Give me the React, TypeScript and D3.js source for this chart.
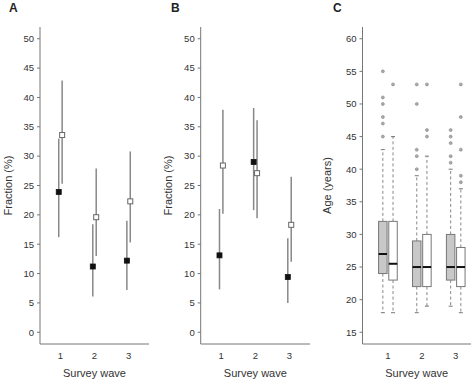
import React from "react";
import * as d3 from "d3";

const waves = [1, 2, 3];
const waveLabels = ["1", "2", "3"];

// Panel A
const aFilledMean = [23.9, 11.2, 12.2];
const aFilledLo = [16.2, 6.1, 7.2];
const aFilledHi = [33.0, 18.4, 19.0];
const aOpenMean = [33.6, 19.6, 22.3];
const aOpenLo = [25.3, 13.0, 15.3];
const aOpenHi = [42.9, 27.9, 30.8];

// Panel B
const bFilledMean = [13.1, 29.0, 9.4];
const bFilledLo = [7.3, 20.8, 5.0];
const bFilledHi = [21.0, 38.2, 16.0];
const bOpenMean = [28.4, 27.1, 18.3];
const bOpenLo = [20.2, 19.4, 12.0];
const bOpenHi = [37.9, 36.1, 26.5];

const fracTicks = [0, 5, 10, 15, 20, 25, 30, 35, 40, 45, 50];
const ageTicks = [15, 20, 25, 30, 35, 40, 45, 50, 55, 60];

// Panel C boxplots: [gray, white] per wave
const boxGroup = ["gray", "white", "gray", "white", "gray", "white"];
const boxWave = [1, 1, 2, 2, 3, 3];
const boxLowW = [18, 18, 18, 19, 19, 18];
const boxQ1 = [24, 23, 22, 22, 23, 22];
const boxMed = [27, 25.5, 25, 25, 25, 25];
const boxQ3 = [32, 32, 29, 30, 30, 28];
const boxHighW = [43, 45, 39, 42, 40, 37];
const boxOutliers = [
  [45, 47, 48, 50, 51, 55],
  [53],
  [40, 42, 43, 50, 53],
  [45, 46, 53],
  [41, 42, 44, 45, 46],
  [38, 39, 43, 48, 53],
];

const FONT = "Liberation Sans, Arial, Helvetica, sans-serif";
const TXT = "#333";
const AX = "#777";

const yTop = 27;
const yBot = 344;

function Frame({ x, y, x0, x1, ticks, ylabel, ylabX, letter, letterX }) {
  return (
    <g>
      <text x={letterX} y={12} fontSize={12} fontWeight="bold" fill="#222" fontFamily={FONT}>
        {letter}
      </text>
      <line x1={x0} x2={x0} y1={yTop} y2={yBot} stroke={AX} strokeWidth={1} />
      <line x1={x0} x2={x1} y1={yBot} y2={yBot} stroke={AX} strokeWidth={1} />
      {ticks.map((t) => (
        <g key={t}>
          <line x1={x0 - 3} x2={x0} y1={y(t)} y2={y(t)} stroke={AX} strokeWidth={1} />
          <text
            x={x0 - 6}
            y={y(t)}
            dy="0.35em"
            textAnchor="end"
            fontSize={9.5}
            fill={TXT}
            fontFamily={FONT}
          >
            {t}
          </text>
        </g>
      ))}
      {waves.map((w, i) => (
        <text
          key={w}
          x={x(w)}
          y={356}
          dy="0.35em"
          textAnchor="middle"
          fontSize={9.5}
          fill={TXT}
          fontFamily={FONT}
        >
          {waveLabels[i]}
        </text>
      ))}
      <text
        x={(x0 + x1) / 2}
        y={373}
        dy="0.35em"
        textAnchor="middle"
        fontSize={11}
        fill={TXT}
        fontFamily={FONT}
      >
        Survey wave
      </text>
      <text
        transform={`translate(${ylabX},${(yTop + yBot) / 2}) rotate(-90)`}
        dy="0.35em"
        textAnchor="middle"
        fontSize={11}
        fill={TXT}
        fontFamily={FONT}
      >
        {ylabel}
      </text>
    </g>
  );
}

function ErrPanel({ x0, x1, fm, fl, fh, om, ol, oh, letter, letterX, ylabX }) {
  const x = d3.scaleLinear().domain([0.4, 3.6]).range([x0, x1]);
  const y = d3.scaleLinear().domain([-2, 52]).range([yBot, yTop]);
  const off = 0.05;
  const s = 5;
  return (
    <g>
      <Frame x={x} y={y} x0={x0} x1={x1} ticks={fracTicks} ylabel="Fraction (%)" ylabX={ylabX} letter={letter} letterX={letterX} />
      {waves.map((w, i) => (
        <g key={w}>
          <line x1={x(w - off)} x2={x(w - off)} y1={y(fl[i])} y2={y(fh[i])} stroke="#888" strokeWidth={1.5} />
          <line x1={x(w + off)} x2={x(w + off)} y1={y(ol[i])} y2={y(oh[i])} stroke="#888" strokeWidth={1.5} />
          <rect x={x(w - off) - s / 2} y={y(fm[i]) - s / 2} width={s} height={s} fill="#111" stroke="#111" strokeWidth={0.8} />
          <rect x={x(w + off) - s / 2} y={y(om[i]) - s / 2} width={s} height={s} fill="#fff" stroke="#666" strokeWidth={1} />
        </g>
      ))}
    </g>
  );
}

function BoxPanel() {
  const x0 = 362.5;
  const x1 = 471;
  const x = d3.scaleLinear().domain([0.25, 3.45]).range([x0, x1]);
  const y = d3.scaleLinear().domain([13.2, 61.8]).range([yBot, yTop]);
  const bw = x(0.25) - x(0);
  const cap = 4;
  return (
    <g>
      <Frame x={x} y={y} x0={x0} x1={x1} ticks={ageTicks} ylabel="Age (years)" ylabX={327} letter="C" letterX={333} />
      {boxGroup.map((g, i) => {
        const cx = x(boxWave[i] + (g === "gray" ? -0.15 : 0.15));
        return (
          <g key={i}>
            <line x1={cx} x2={cx} y1={y(boxQ3[i])} y2={y(boxHighW[i])} stroke="#888" strokeWidth={1} strokeDasharray="3,2.5" />
            <line x1={cx} x2={cx} y1={y(boxQ1[i])} y2={y(boxLowW[i])} stroke="#888" strokeWidth={1} strokeDasharray="3,2.5" />
            <line x1={cx - cap / 2} x2={cx + cap / 2} y1={y(boxHighW[i])} y2={y(boxHighW[i])} stroke="#777" strokeWidth={1} />
            <line x1={cx - cap / 2} x2={cx + cap / 2} y1={y(boxLowW[i])} y2={y(boxLowW[i])} stroke="#777" strokeWidth={1} />
            <rect
              x={cx - bw / 2}
              y={y(boxQ3[i])}
              width={bw}
              height={y(boxQ1[i]) - y(boxQ3[i])}
              fill={g === "gray" ? "#c8c8c8" : "#fff"}
              stroke="#777"
              strokeWidth={1}
            />
            <line x1={cx - bw / 2} x2={cx + bw / 2} y1={y(boxMed[i])} y2={y(boxMed[i])} stroke="#111" strokeWidth={2} />
            {boxOutliers[i].map((o, j) => (
              <circle key={j} cx={cx} cy={y(o)} r={1.5} fill="#aaa" stroke="#888" strokeWidth={0.6} />
            ))}
          </g>
        );
      })}
    </g>
  );
}

export default function App() {
  return (
    <svg width={474} height={382} style={{ position: "absolute", left: 0, top: 0, background: "#fff" }}>
      <rect width={474} height={382} fill="#fff" />
      <ErrPanel x0={40} x1={149} fm={aFilledMean} fl={aFilledLo} fh={aFilledHi} om={aOpenMean} ol={aOpenLo} oh={aOpenHi} letter="A" letterX={9} ylabX={8} />
      <ErrPanel x0={200.7} x1={310} fm={bFilledMean} fl={bFilledLo} fh={bFilledHi} om={bOpenMean} ol={bOpenLo} oh={bOpenHi} letter="B" letterX={171} ylabX={168} />
      <BoxPanel />
    </svg>
  );
}
